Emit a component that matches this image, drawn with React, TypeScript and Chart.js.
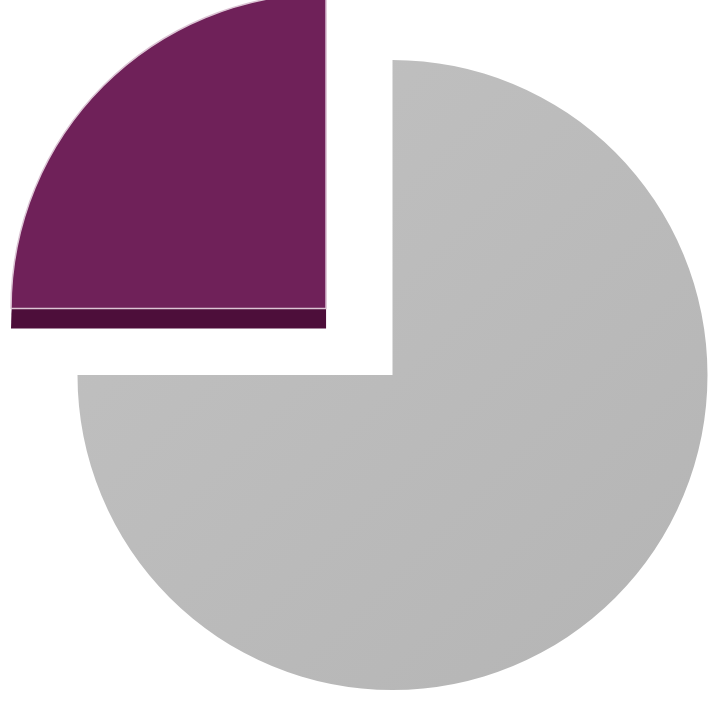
import React, { useEffect, useRef } from "react";
import { Chart, registerables } from "chart.js";

Chart.register(...registerables);

// slices go clockwise from 12 o'clock
const labels = ["Rest", "Share"];
const values = [75, 25];
const faceColors = ["#b9b9b9", "#6f2159"];
const edgeColor = "#4d0e3a";

// fake 3D thickness under the pulled-out slice
const sideEdge = {
  id: "sideEdge",
  beforeDatasetsDraw(chart: any) {
    const meta = chart.getDatasetMeta(0);
    const arc = meta.data[1];
    if (!arc) return;
    const { x, y, startAngle, endAngle, outerRadius } = arc.getProps(
      ["x", "y", "startAngle", "endAngle", "outerRadius"],
      true
    );
    const off = (arc.options.offset || 0) / 4;
    const half = (startAngle + endAngle) / 2;
    const cx = x + Math.cos(half) * off;
    const cy = y + Math.sin(half) * off + 20;
    const c = chart.ctx;
    c.save();
    c.fillStyle = edgeColor;
    c.beginPath();
    c.moveTo(cx, cy);
    c.arc(cx, cy, outerRadius, startAngle, endAngle);
    c.closePath();
    c.fill();
    c.restore();
  },
};

export default function App() {
  const canvasRef = useRef<HTMLCanvasElement>(null);

  useEffect(() => {
    if (!canvasRef.current) return;
    const chart = new Chart(canvasRef.current, {
      type: "pie",
      data: {
        labels,
        datasets: [
          {
            data: values,
            backgroundColor: (ctx: any) => {
              if (ctx.dataIndex === 1) return faceColors[1];
              const area = ctx.chart.chartArea;
              if (!area) return faceColors[0];
              const g = ctx.chart.ctx.createLinearGradient(area.left, area.top, area.right, area.bottom);
              g.addColorStop(0, "#c2c2c2");
              g.addColorStop(1, "#b4b4b4");
              return g;
            },
            borderColor: ["rgba(255,255,255,0)", "#dcc4d4"],
            borderWidth: [0, 1.5],
            offset: [0, 376],
            hoverOffset: 0,
            radius: 315,
            clip: false,
          } as any,
        ],
      },
      options: {
        animation: false,
        responsive: true,
        maintainAspectRatio: false,
        layout: { padding: { left: 64, top: 47, right: 0, bottom: 0 } },
        plugins: {
          legend: { display: false },
          tooltip: { enabled: false },
        },
      },
      plugins: [sideEdge],
    });
    return () => chart.destroy();
  }, []);

  return (
    <div style={{ position: "absolute", left: 0, top: 0, width: 721, height: 703 }}>
      <canvas ref={canvasRef} />
    </div>
  );
}
